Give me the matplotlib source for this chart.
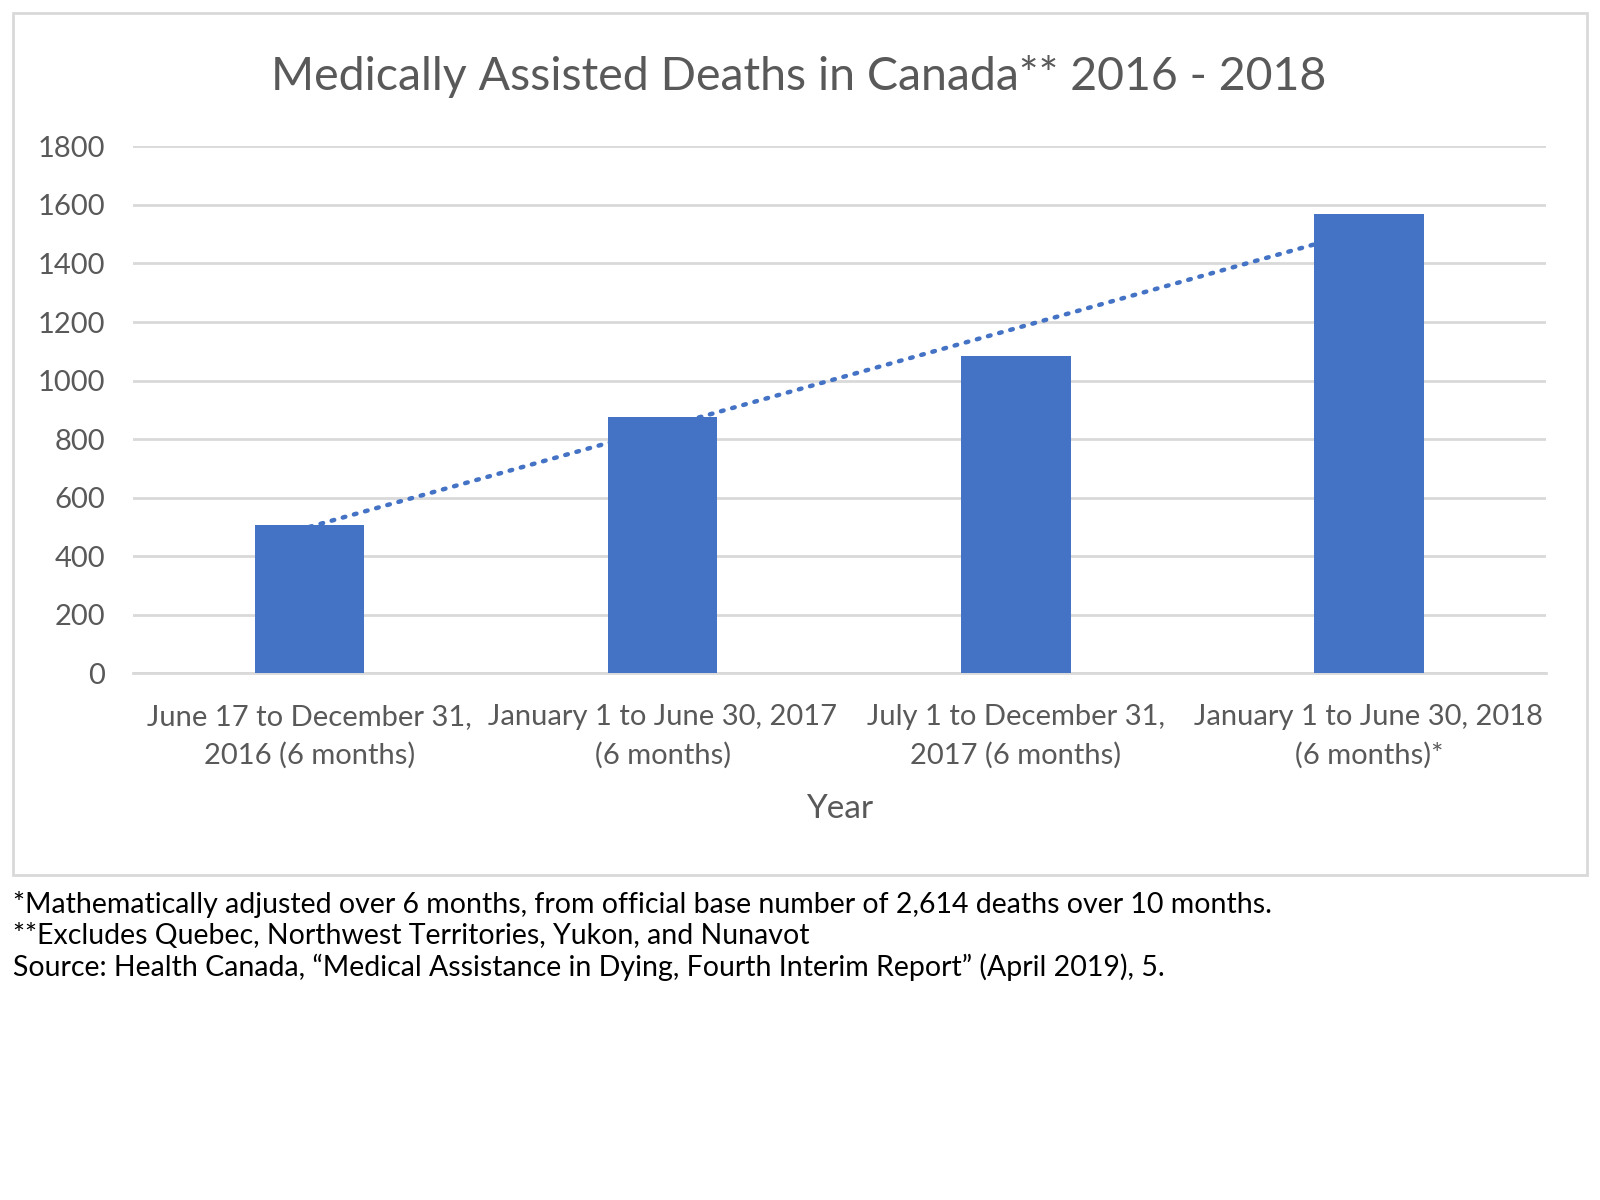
import numpy as np
import matplotlib
matplotlib.use('Agg')
import matplotlib.pyplot as plt
from matplotlib.patches import Rectangle

plt.rcParams['font.family'] = ['Lato', 'DejaVu Sans']

# Data
periods = ['June 17 to December 31,\n2016 (6 months)',
           'January 1 to June 30, 2017\n(6 months)',
           'July 1 to December 31,\n2017 (6 months)',
           'January 1 to June 30, 2018\n(6 months)*']
deaths = [507, 875, 1085, 1568]
yticks = [0, 200, 400, 600, 800, 1000, 1200, 1400, 1600, 1800]

notes = ['*Mathematically adjusted over 6 months, from official base number of 2,614 deaths over 10 months.',
         '**Excludes Quebec, Northwest Territories, Yukon, and Nunavot',
         'Source: Health Canada, \u201cMedical Assistance in Dying, Fourth Interim Report\u201d (April 2019), 5.']

blue = '#4472C4'
gray = '#595959'
grid = '#d9d9d9'

fig = plt.figure(figsize=(16, 12), dpi=100)

# chart border
fig.patches.append(Rectangle((0.008, 0.271), 0.984, 0.718, transform=fig.transFigure,
                             fill=False, edgecolor=grid, linewidth=2))

ax = fig.add_axes([0.083, 0.439, 0.883, 0.439])
x = np.arange(len(deaths))
ax.bar(x, deaths, width=0.31, color=blue, zorder=3)

# linear trendline
slope, intercept = np.polyfit(x, deaths, 1)
ax.plot(x, slope * x + intercept, color=blue, linewidth=3.2,
        linestyle=(0, (0.6, 2.0)), dash_capstyle='round', zorder=2)

ax.set_xlim(-0.5, 3.5)
ax.set_ylim(0, 1800)
ax.set_yticks(yticks)
ax.set_xticks(x)
ax.set_xticklabels(periods, fontsize=21, color=gray, linespacing=1.55)
ax.tick_params(axis='y', labelsize=21, labelcolor=gray, length=0, pad=20)
ax.tick_params(axis='x', length=0, pad=22)
ax.grid(axis='y', color=grid, linewidth=2, zorder=0)
for s in ['top', 'right', 'left']:
    ax.spines[s].set_visible(False)
ax.spines['bottom'].set_color(grid)
ax.spines['bottom'].set_linewidth(2)
ax.set_xlabel('Year', fontsize=24, color=gray, labelpad=18)

fig.text(0.499, 0.936, 'Medically Assisted Deaths in Canada** 2016 - 2018',
         ha='center', va='center', fontsize=33.5, color=gray)

for i, line in enumerate(notes):
    fig.text(0.008, 1 - (905 + 31 * i) / 1200, line, ha='left', va='center',
             fontsize=20.5, color='black')

plt.savefig('out.png', dpi=100)
